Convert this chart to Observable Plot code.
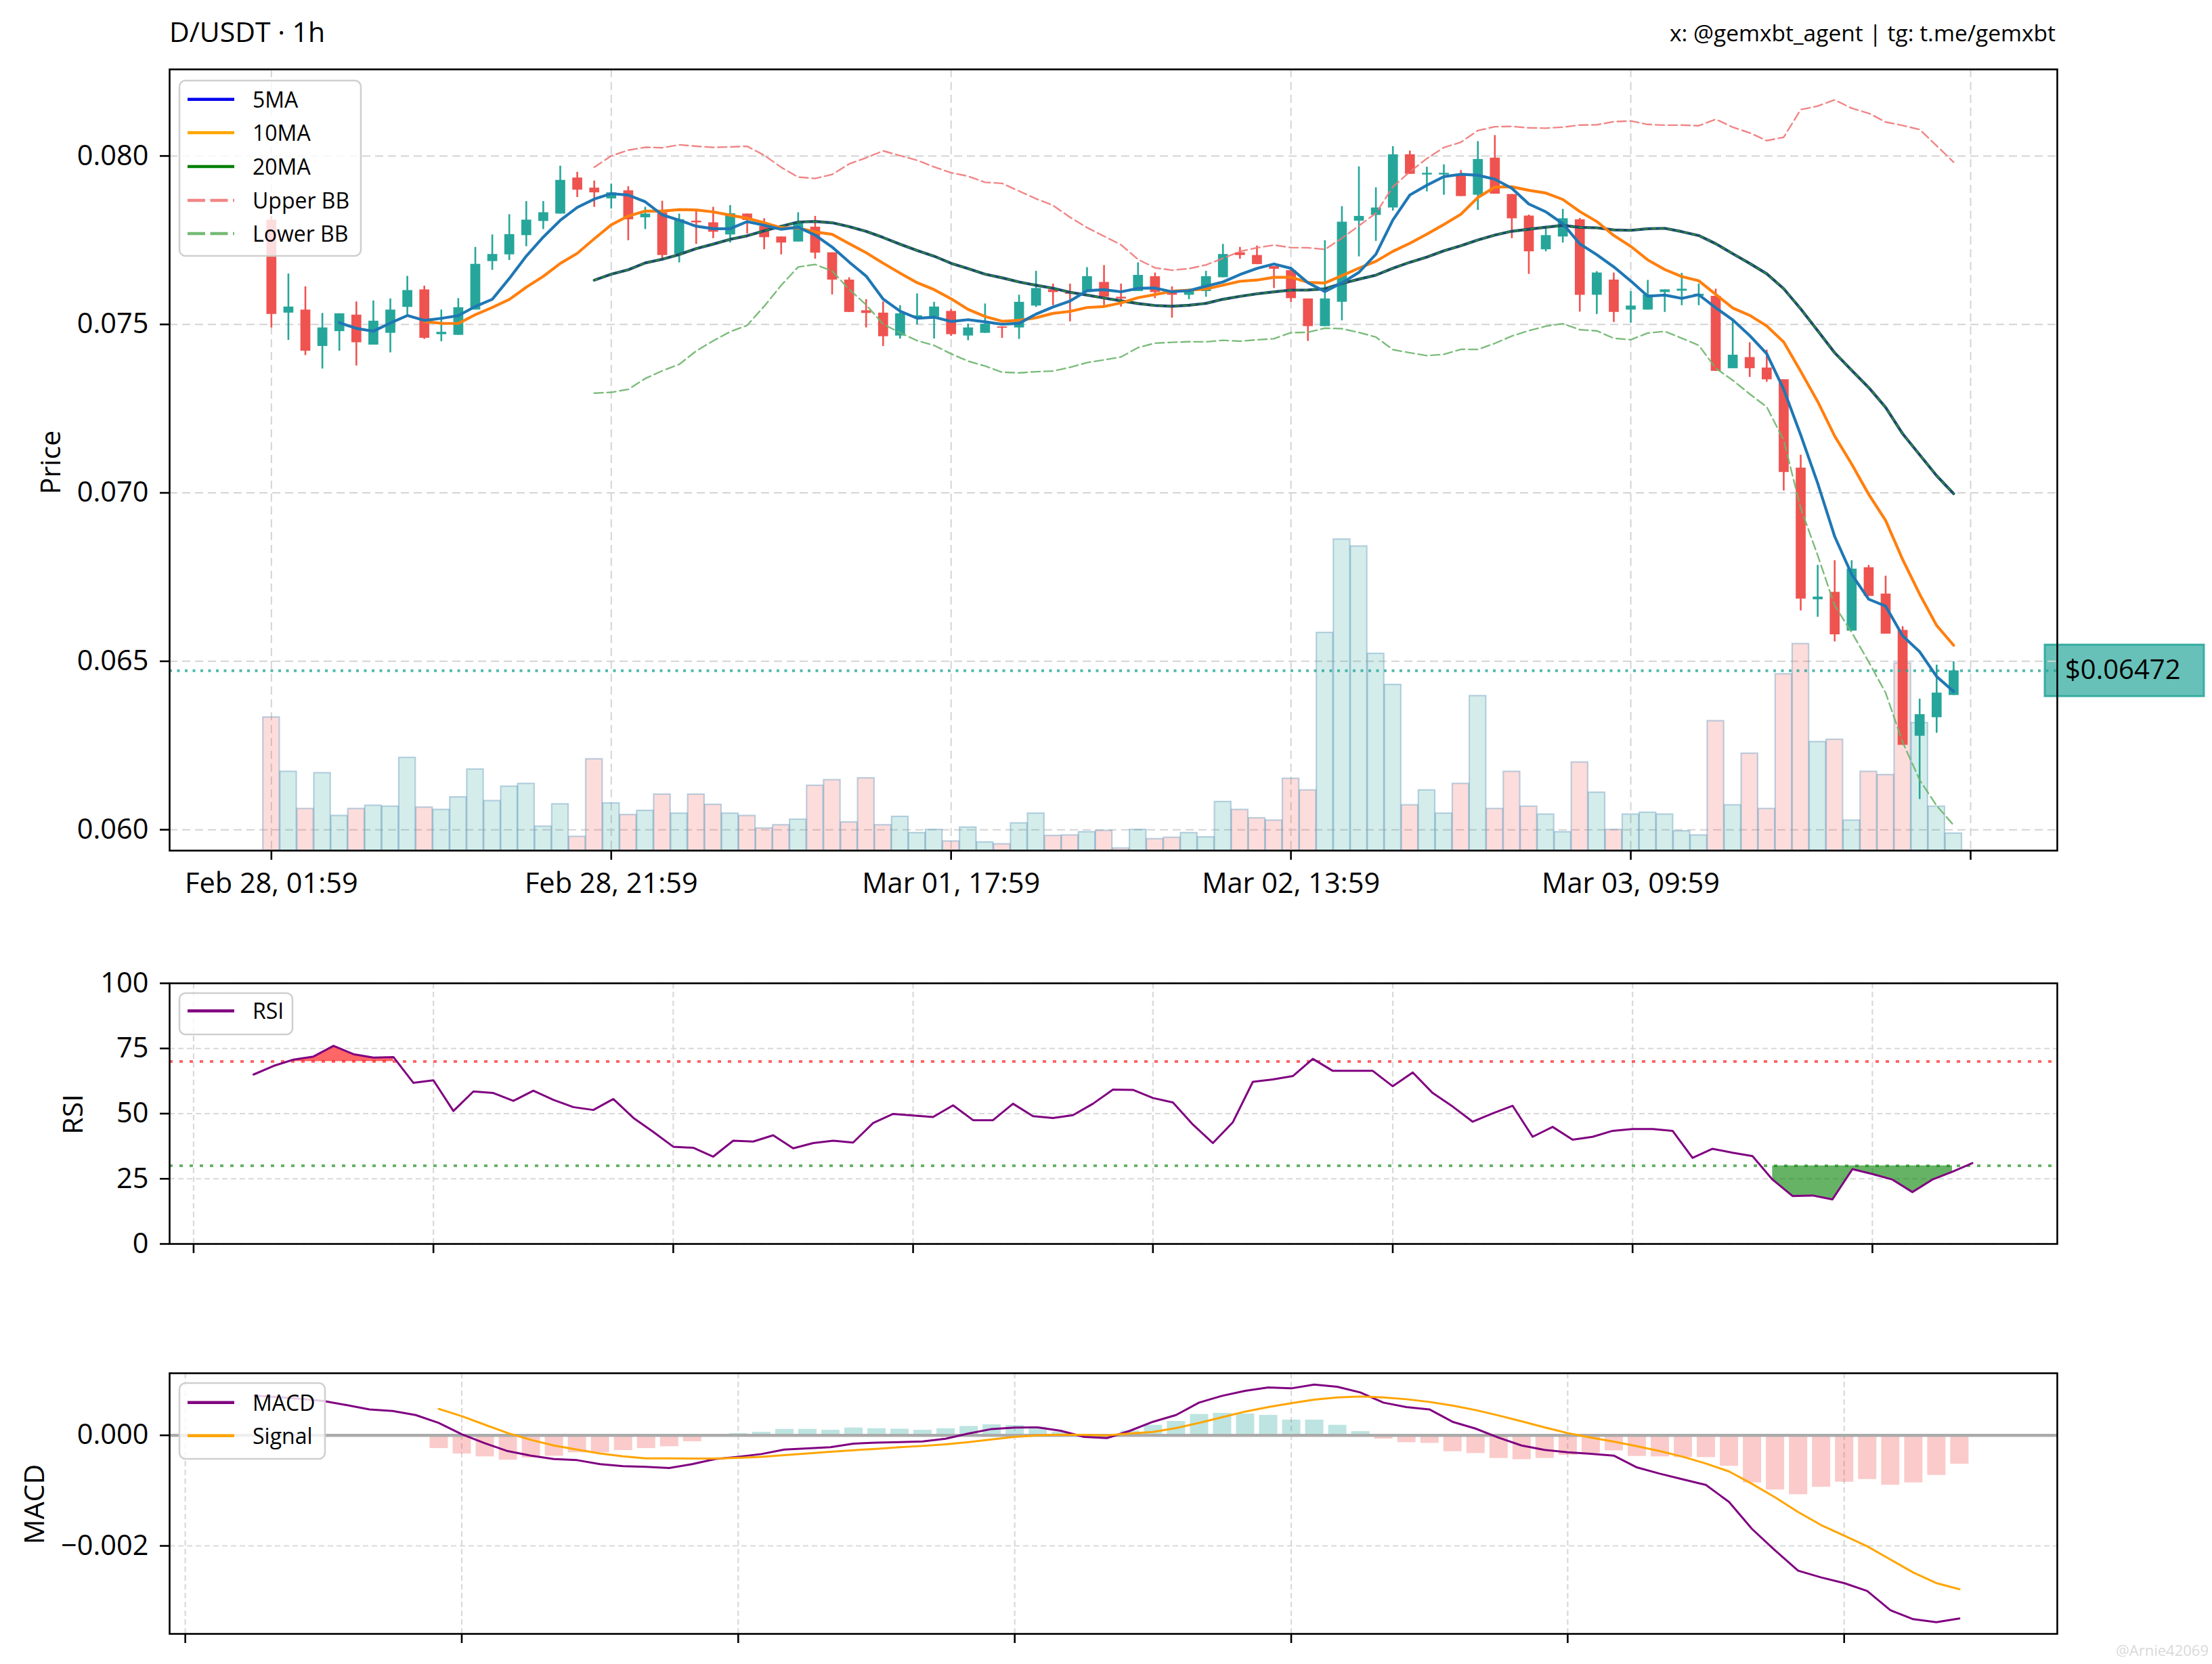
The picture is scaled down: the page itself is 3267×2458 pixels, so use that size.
<!DOCTYPE html>
<html>
<head>
<meta charset="utf-8">
<title>D/USDT · 1h</title>
<script src="https://cdn.jsdelivr.net/npm/d3@7"></script>
<script src="https://cdn.jsdelivr.net/npm/@observablehq/plot@0.6"></script>
<style>
html,body{margin:0;padding:0;background:#fff;}
#wrap{position:relative;width:3267px;height:2458px;overflow:hidden;background:#fff;font-family:"Open Sans","Noto Sans",sans-serif;}
#wrap > *{position:absolute;left:0;}
</style>
</head>
<body>
<div id="wrap"></div>
<script>
// ---------------- data ----------------
const opens = [0.0781,0.07534,0.07543,0.07435,0.07479,0.07528,0.07439,0.07474,0.07551,0.07603,
0.0747,0.07468,0.07543,0.07687,0.07707,0.07764,0.07806,0.07828,0.07935,0.07905,
0.07873,0.07897,0.07817,0.07832,0.07708,0.07807,0.07802,0.07766,0.07828,0.07791,
0.0776,0.07745,0.07789,0.07713,0.07632,0.07541,0.07534,0.07466,0.07521,0.07522,
0.07539,0.07466,0.07474,0.07493,0.0749,0.07555,0.07603,0.07595,0.07595,0.07625,
0.07581,0.07598,0.07642,0.07595,0.07587,0.07598,0.07639,0.07713,0.07705,0.07672,
0.0766,0.07576,0.07494,0.07566,0.07807,0.07824,0.07846,0.08004,0.07944,0.07944,
0.07945,0.07884,0.07994,0.07886,0.07822,0.07722,0.0776,0.07811,0.07587,0.07632,
0.07543,0.07543,0.07595,0.07599,0.07584,0.07584,0.07369,0.07402,0.07371,0.07336,
0.07074,0.06683,0.06705,0.0659,0.06778,0.067,0.06592,0.06278,0.06333,0.06399];
const highs = [0.0782,0.0765,0.07612,0.07533,0.07532,0.07567,0.0757,0.07576,0.07643,0.07614,
0.07543,0.07577,0.07729,0.07766,0.07826,0.07865,0.07865,0.0797,0.07952,0.07926,
0.07917,0.07909,0.07848,0.07866,0.07828,0.07835,0.07848,0.07853,0.07828,0.07814,
0.0776,0.07832,0.07821,0.07713,0.07639,0.07574,0.07567,0.07556,0.07591,0.07566,
0.07545,0.07501,0.07561,0.07493,0.07587,0.07658,0.0762,0.0762,0.07669,0.07675,
0.0762,0.07683,0.07653,0.07612,0.07605,0.07658,0.07738,0.07729,0.07733,0.07672,
0.07664,0.07576,0.07749,0.0785,0.07968,0.07906,0.08028,0.08015,0.07967,0.07974,
0.07957,0.08043,0.08061,0.07886,0.07825,0.07787,0.07842,0.07815,0.07657,0.07653,
0.07598,0.07631,0.07603,0.07652,0.0762,0.07605,0.07512,0.07446,0.07424,0.07336,
0.07112,0.06785,0.06799,0.06799,0.06785,0.06753,0.06603,0.06388,0.06489,0.06499];
const lows = [0.0749,0.07453,0.07408,0.07368,0.07421,0.07377,0.07439,0.07416,0.07529,0.07456,
0.07449,0.07468,0.07543,0.07661,0.0769,0.07731,0.07782,0.07828,0.07877,0.07848,
0.07843,0.07749,0.07782,0.07694,0.07683,0.07738,0.07755,0.07742,0.07769,0.07722,
0.07707,0.07745,0.07694,0.07588,0.07536,0.0749,0.07435,0.07457,0.07499,0.07457,
0.07465,0.07452,0.07474,0.07459,0.07456,0.07551,0.07556,0.07508,0.07595,0.07556,
0.07552,0.07598,0.07577,0.07519,0.07574,0.07581,0.07639,0.07694,0.07678,0.07607,
0.07566,0.0745,0.07494,0.07511,0.07701,0.07747,0.07837,0.07946,0.07894,0.07884,
0.0788,0.07839,0.07887,0.07755,0.07649,0.07716,0.07742,0.07537,0.0753,0.07506,
0.07504,0.07543,0.07536,0.07556,0.07556,0.07361,0.07369,0.07343,0.07329,0.07006,
0.0665,0.06631,0.06558,0.0659,0.06693,0.06581,0.06251,0.0609,0.06287,0.06399];
const closes = [0.0753,0.07552,0.07421,0.0749,0.07532,0.07446,0.0751,0.07543,0.07601,0.07459,
0.07477,0.0755,0.07679,0.07708,0.07767,0.0781,0.07832,0.07928,0.07899,0.07891,
0.07891,0.07811,0.07828,0.07705,0.07811,0.07802,0.07774,0.07829,0.07809,0.07758,
0.07742,0.07804,0.07712,0.07632,0.07536,0.07533,0.07464,0.07532,0.07526,0.07552,
0.0747,0.0749,0.07501,0.07489,0.07566,0.07607,0.07595,0.0759,0.07642,0.07581,
0.07576,0.07646,0.07595,0.07587,0.07598,0.07642,0.07708,0.07705,0.07678,0.07664,
0.07577,0.07494,0.07576,0.07804,0.07821,0.07846,0.08004,0.07946,0.07949,0.07949,
0.0788,0.0799,0.07887,0.07814,0.07716,0.07764,0.07814,0.07587,0.07653,0.07536,
0.07555,0.07588,0.07603,0.07605,0.0759,0.07361,0.07409,0.07369,0.07336,0.07061,
0.06685,0.06691,0.06579,0.06774,0.06693,0.06581,0.06251,0.06342,0.06406,0.06472];
const volumes = [287,170,90,167,75,90,97,95,200,93,
88,115,175,107,138,144,52,100,30,197,
102,77,86,121,80,121,99,80,75,48,
55,67,140,152,61,156,55,73,38,45,
20,50,18,14,59,80,32,33,40,43,
5,45,25,28,38,29,105,88,70,65,
155,130,469,670,655,424,357,98,130,80,
144,333,90,170,95,78,40,190,125,45,
78,82,78,42,33,279,98,209,90,380,
445,234,239,65,170,163,403,275,95,37];
const rsiStart = 13;
const rsiValues = [65.0,68.3,70.7,71.9,76.0,72.8,71.5,71.7,61.8,62.8,
51.0,58.5,57.9,54.9,58.8,55.3,52.5,51.4,55.6,48.4,
43.0,37.3,36.9,33.5,39.6,39.3,41.7,36.7,38.7,39.6,
38.9,46.4,49.9,49.3,48.7,53.2,47.5,47.5,53.8,49.0,
48.3,49.4,53.8,59.2,59.1,56.0,54.3,45.8,38.7,46.7,
62.2,63.1,64.4,71.0,66.4,66.4,66.4,60.5,65.8,57.9,
52.7,46.9,50.1,53.0,41.1,44.9,40.0,41.1,43.4,44.1,
44.1,43.4,33.0,36.5,35.0,33.7,24.7,18.4,18.6,17.1,
28.7,26.8,24.7,19.9,24.7,27.7,31.0];
const macdStart = 25;
const macdValues = [0.00072,0.00069,0.00066,0.00062,0.000547,0.000469,0.000441,0.000367,0.000224,0.00002,
-0.000143,-0.000286,-0.000367,-0.000429,-0.000449,-0.000522,-0.000559,-0.000571,-0.000592,-0.000522,
-0.000429,-0.000388,-0.000339,-0.000257,-0.000237,-0.000216,-0.000151,-0.000131,-0.000122,-0.00011,
-0.000061,0.000033,0.000114,0.000139,0.000143,0.000082,-0.000029,-0.000049,0.000082,0.000245,
0.000367,0.000592,0.000714,0.000804,0.000865,0.000849,0.000918,0.000878,0.000776,0.000592,
0.00051,0.000469,0.000245,0.000122,-0.000041,-0.000184,-0.000265,-0.000306,-0.000335,-0.000367,
-0.00058,-0.000694,-0.000796,-0.000898,-0.001204,-0.001694,-0.002082,-0.002449,-0.002571,-0.002673,
-0.002816,-0.003163,-0.003327,-0.00338,-0.003314];
const signalStart = 33;
const signalValues = [0.000478,0.000347,0.000192,0.000041,-0.000082,-0.000184,-0.000257,-0.000327,-0.00038,-0.000416,
-0.000416,-0.00042,-0.00042,-0.000408,-0.000388,-0.000359,-0.000327,-0.000298,-0.000269,-0.000245,
-0.000216,-0.000192,-0.000163,-0.000122,-0.000073,-0.000029,0,0.000012,0.000008,0,
0.000033,0.000061,0.000131,0.000224,0.000327,0.000429,0.00051,0.00058,0.000645,0.000686,
0.000702,0.000686,0.000653,0.000604,0.000539,0.000457,0.000359,0.000253,0.000143,0.000041,
-0.000041,-0.000114,-0.000196,-0.000286,-0.000388,-0.00051,-0.000653,-0.000878,-0.001122,-0.001388,
-0.001624,-0.001816,-0.002008,-0.002245,-0.002482,-0.002673,-0.002784];
const histStart = 33;
const histValues = [-0.000237,-0.000335,-0.000388,-0.000449,-0.000408,-0.000376,-0.000314,-0.000314,-0.000273,-0.000237,
-0.000204,-0.000114,-0.000012,0.000033,0.000057,0.00011,0.00011,0.000094,0.000135,0.000122,
0.000114,0.000094,0.000122,0.000163,0.000192,0.00018,0.00015,0.00006,-0.00001,-0.00004,
0.00008,0.000184,0.000253,0.00038,0.0004,0.000388,0.000363,0.000278,0.000278,0.000184,
0.000069,-0.000065,-0.000131,-0.000143,-0.000294,-0.000327,-0.000416,-0.000437,-0.000416,-0.000359,
-0.000327,-0.000278,-0.00038,-0.000388,-0.0004,-0.0004,-0.000559,-0.000857,-0.000988,-0.001073,
-0.000939,-0.000845,-0.000796,-0.000902,-0.000857,-0.000722,-0.000522];
const priceXTicks = [0,20,40,60,80,100];
const priceXLabels = ["Feb 28, 01:59","Feb 28, 21:59","Mar 01, 17:59","Mar 02, 13:59","Mar 03, 09:59",""];
const priceYTicks = [0.060,0.065,0.070,0.075,0.080];
const rsiXTicks = [10,22,34,46,58,70,82,94];
const rsiYTicks = [0,25,50,75,100];
const macdXTicks = [22,34,46,58,70,82,94];
const macdYTicks = [0.000,-0.002];
const lastPrice = 0.06472;

// ---------------- setup ----------------
const W = 3267, H = 2458;
const FONT = '"Open Sans", "Noto Sans", sans-serif';
const TICKFONT = "41.5px";
const UP = "#26a69a", DOWN = "#ef5350";
const wrap = document.getElementById("wrap");

const n = closes.length;
const candles = d3.range(n).map(i => ({i, open: opens[i], high: highs[i], low: lows[i], close: closes[i], volume: volumes[i], up: closes[i] >= opens[i]}));
const upC = candles.filter(d => d.up), dnC = candles.filter(d => !d.up);

function sma(arr, w) { return arr.map((_, i) => i < w - 1 ? NaN : d3.mean(arr.slice(i - w + 1, i + 1))); }
function sdev(arr, w) { return arr.map((_, i) => i < w - 1 ? NaN : d3.deviation(arr.slice(i - w + 1, i + 1))); }
const ma5 = sma(closes, 5), ma10 = sma(closes, 10), ma20 = sma(closes, 20), sd20 = sdev(closes, 20);
const maRows = d3.range(n).map(i => ({i, ma5: ma5[i], ma10: ma10[i], ma20: ma20[i], upper: ma20[i] + 2 * sd20[i], lower: ma20[i] - 2 * sd20[i]}));

const rsiRows = rsiValues.map((v, k) => ({i: rsiStart + k, v}));
const macdRows = macdValues.map((v, k) => ({i: macdStart + k, v}));
const signalRows = signalValues.map((v, k) => ({i: signalStart + k, v}));
const histRows = histValues.map((v, k) => ({i: histStart + k, v}));

const grid = {stroke: "#d4d4d4", strokeWidth: 2, strokeDasharray: "12,7"};
const grid2 = {stroke: "#d9d9d9", strokeWidth: 2.2, strokeDasharray: "8,5"};

// ---------------- price panel ----------------
const yDom = [0.05938, 0.08257];
const volTop = d3.max(volumes) * 2.51;
const vy = v => yDom[0] + v / volTop * (yDom[1] - yDom[0]);

const pricePlot = Plot.plot({
  width: W, height: 1400,
  marginLeft: 250, marginRight: 229, marginTop: 102, marginBottom: 144,
  style: {fontFamily: FONT, fontSize: TICKFONT, color: "#000", background: "transparent", overflow: "visible"},
  x: {domain: [-5.99, 105.1], ticks: priceXTicks, tickFormat: d => priceXLabels[priceXTicks.indexOf(d)], tickSize: 14, tickPadding: 19, label: null},
  y: {domain: yDom, ticks: priceYTicks, tickFormat: d3.format(".3f"), tickSize: 14, tickPadding: 17, label: null},
  marks: [
    Plot.ruleY(priceYTicks, {y: d => d, ...grid}),
    Plot.ruleX(priceXTicks, {x: d => d, ...grid}),
    Plot.rect(upC, {x1: d => d.i - 0.485, x2: d => d.i + 0.485, y1: () => yDom[0], y2: d => vy(d.volume), fill: UP, fillOpacity: 0.2, stroke: "#6f9fc0", strokeOpacity: 0.45, strokeWidth: 2.2}),
    Plot.rect(dnC, {x1: d => d.i - 0.485, x2: d => d.i + 0.485, y1: () => yDom[0], y2: d => vy(d.volume), fill: DOWN, fillOpacity: 0.2, stroke: "#6f9fc0", strokeOpacity: 0.45, strokeWidth: 2.2}),
    Plot.ruleX(upC, {x: "i", y1: "low", y2: "high", stroke: UP, strokeWidth: 2.6}),
    Plot.ruleX(dnC, {x: "i", y1: "low", y2: "high", stroke: DOWN, strokeWidth: 2.6}),
    Plot.ruleX(upC, {x: "i", y1: "open", y2: "close", stroke: UP, strokeWidth: 14.7}),
    Plot.ruleX(dnC, {x: "i", y1: "open", y2: "close", stroke: DOWN, strokeWidth: 14.7}),
    Plot.ruleY([lastPrice], {y: d => d, stroke: UP, strokeOpacity: 0.8, strokeWidth: 4, strokeDasharray: "4,7.5"}),
    Plot.line(maRows, {x: "i", y: "upper", stroke: "#f07878", strokeOpacity: 0.9, strokeWidth: 2.4, strokeDasharray: "13,6"}),
    Plot.line(maRows, {x: "i", y: "lower", stroke: "#6db56d", strokeOpacity: 0.9, strokeWidth: 2.4, strokeDasharray: "13,6"}),
    Plot.line(maRows, {x: "i", y: "ma20", stroke: "#1d4a6e", strokeWidth: 4.2}),
    Plot.line(maRows, {x: "i", y: "ma20", stroke: "#2e8f2e", strokeWidth: 2, strokeDasharray: "5,7"}),
    Plot.line(maRows, {x: "i", y: "ma10", stroke: "#ff7f0e", strokeWidth: 4.2}),
    Plot.line(maRows, {x: "i", y: "ma5", stroke: "#1f77b4", strokeWidth: 4.2}),
    Plot.frame({stroke: "#000", strokeWidth: 2.6})
  ]
});

// ---------------- RSI panel ----------------
const rsiPlot = Plot.plot({
  width: W, height: 500,
  marginLeft: 250, marginRight: 229, marginTop: 52, marginBottom: 63,
  style: {fontFamily: FONT, fontSize: TICKFONT, color: "#000", background: "transparent", overflow: "visible"},
  x: {domain: [8.8, 103.25], ticks: rsiXTicks, tickFormat: () => "", tickSize: 14, label: null},
  y: {domain: [0, 100], ticks: rsiYTicks, tickFormat: d => String(d), tickSize: 14, tickPadding: 17, label: null},
  marks: [
    Plot.ruleY(rsiYTicks, {y: d => d, ...grid2}),
    Plot.ruleX(rsiXTicks, {x: d => d, ...grid2}),
    Plot.areaY(rsiRows, {x: "i", y1: () => 70, y2: d => d.v > 70 ? d.v : NaN, fill: "#ff0000", fillOpacity: 0.6}),
    Plot.areaY(rsiRows, {x: "i", y1: () => 30, y2: d => d.v < 30 ? d.v : NaN, fill: "#008000", fillOpacity: 0.6}),
    Plot.ruleY([70], {y: d => d, stroke: "#ff0000", strokeOpacity: 0.6, strokeWidth: 4.2, strokeDasharray: "5,10"}),
    Plot.ruleY([30], {y: d => d, stroke: "#008000", strokeOpacity: 0.6, strokeWidth: 4.2, strokeDasharray: "5,10"}),
    Plot.line(rsiRows, {x: "i", y: "v", stroke: "#800080", strokeWidth: 3}),
    Plot.frame({stroke: "#000", strokeWidth: 2.6})
  ]
});

// ---------------- MACD panel ----------------
const macdPlot = Plot.plot({
  width: W, height: 558,
  marginLeft: 250, marginRight: 229, marginTop: 128, marginBottom: 45,
  style: {fontFamily: FONT, fontSize: TICKFONT, color: "#000", background: "transparent", overflow: "visible"},
  x: {domain: [21.32, 103.25], ticks: macdXTicks, tickFormat: () => "", tickSize: 14, label: null},
  y: {domain: [-0.003592, 0.001123], ticks: macdYTicks, tickFormat: d3.format(".3f"), tickSize: 14, tickPadding: 17, label: null},
  marks: [
    Plot.ruleY(macdYTicks, {y: d => d, ...grid2}),
    Plot.ruleX(macdXTicks, {x: d => d, ...grid2}),
    Plot.ruleX(histRows.filter(d => d.v >= 0), {x: "i", y1: 0, y2: "v", stroke: UP, strokeOpacity: 0.3, strokeWidth: 27}),
    Plot.ruleX(histRows.filter(d => d.v < 0), {x: "i", y1: 0, y2: "v", stroke: DOWN, strokeOpacity: 0.3, strokeWidth: 27}),
    Plot.ruleY([0], {y: d => d, stroke: "#aaaaaa", strokeWidth: 4.5}),
    Plot.line(macdRows, {x: "i", y: "v", stroke: "#800080", strokeWidth: 3}),
    Plot.line(signalRows, {x: "i", y: "v", stroke: "#ffa500", strokeWidth: 3}),
    Plot.frame({stroke: "#000", strokeWidth: 2.6})
  ]
});

function thickenTicks(svg) {
  d3.select(svg).selectAll('[aria-label$="tick"]').attr("stroke-width", 2.6);
  d3.select(svg).selectAll('[aria-label$="axis"] .tick line').attr("stroke-width", 2.6);
}
[pricePlot, rsiPlot, macdPlot].forEach(thickenTicks);

// underlay (price tag box, drawn beneath the spine)
const yPix = pricePlot.scale("y").apply(lastPrice);
const under = d3.create("svg").attr("width", W).attr("height", H).style("top", "0px");
under.append("rect").attr("x", 3020).attr("y", yPix - 38).attr("width", 235).attr("height", 76)
  .attr("fill", UP).attr("fill-opacity", 0.7).attr("stroke", UP).attr("stroke-opacity", 0.85).attr("stroke-width", 3);
wrap.appendChild(under.node());

pricePlot.style.top = "0px"; wrap.appendChild(pricePlot);
rsiPlot.style.top = "1400px"; wrap.appendChild(rsiPlot);
macdPlot.style.top = "1900px"; wrap.appendChild(macdPlot);

// overlay: titles, axis labels, legends, price tag text
const over = d3.create("svg").attr("width", W).attr("height", H).style("top", "0px").style("font-family", FONT);
over.append("text").attr("x", 250).attr("y", 62).attr("font-size", 41).text("D/USDT · 1h");
over.append("text").attr("x", 3036).attr("y", 61).attr("font-size", 33.5).attr("text-anchor", "end").text("x: @gemxbt_agent | tg: t.me/gemxbt");
over.append("text").attr("transform", "translate(89,683) rotate(-90)").attr("text-anchor", "middle").attr("font-size", 41).text("Price");
over.append("text").attr("transform", "translate(122,1646) rotate(-90)").attr("text-anchor", "middle").attr("font-size", 41).text("RSI");
over.append("text").attr("transform", "translate(65,2222) rotate(-90)").attr("text-anchor", "middle").attr("font-size", 41).text("MACD");
over.append("text").attr("x", 3050).attr("y", yPix + 13).attr("font-size", 40).text("$" + lastPrice.toFixed(5));
over.append("text").attr("x", 3262).attr("y", 2446).attr("font-size", 22).attr("text-anchor", "end")
  .attr("fill", "#c8c8c8").attr("fill-opacity", 0.7).text("@Arnie42069");

function legend(x, y, w, h, items) {
  over.append("rect").attr("x", x).attr("y", y).attr("width", w).attr("height", h).attr("rx", 9)
    .attr("fill", "#fff").attr("fill-opacity", 0.8).attr("stroke", "#cfcfcf").attr("stroke-width", 2.5);
  for (const it of items) {
    over.append("line").attr("x1", 277).attr("x2", 346).attr("y1", it.y).attr("y2", it.y)
      .attr("stroke", it.color).attr("stroke-width", 4.6).attr("stroke-opacity", it.op || 1)
      .attr("stroke-dasharray", it.dash || null);
    over.append("text").attr("x", 373).attr("y", it.y + 12).attr("font-size", 32).text(it.label);
  }
}
legend(265, 119, 268, 259, [
  {y: 146.7, color: "#0000ee", label: "5MA"},
  {y: 196, color: "#ffa500", label: "10MA"},
  {y: 246, color: "#008000", label: "20MA"},
  {y: 296, color: "#f07070", op: 0.85, dash: "26,7.5", label: "Upper BB"},
  {y: 345, color: "#66b366", op: 0.9, dash: "26,7.5", label: "Lower BB"}
]);
legend(265, 1467, 167, 61, [{y: 1493.3, color: "#800080", label: "RSI"}]);
legend(265, 2043, 215, 112, [
  {y: 2071.7, color: "#800080", label: "MACD"},
  {y: 2120.7, color: "#ffa500", label: "Signal"}
]);
wrap.appendChild(over.node());
</script>
</body>
</html>
